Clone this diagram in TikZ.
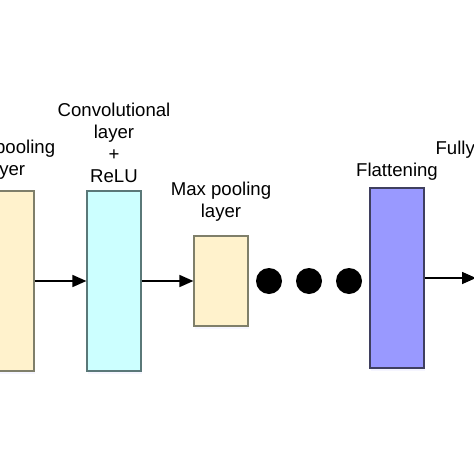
\documentclass[tikz,border=0pt]{standalone}
\usepackage{fontspec}
\setmainfont{Liberation Sans}
\usetikzlibrary{arrows.meta,shadows}
\definecolor{poolfill}{HTML}{FFF2CC}
\definecolor{poolline}{HTML}{7F7F6A}
\definecolor{convfill}{HTML}{CCFFFF}
\definecolor{convline}{HTML}{5A7878}
\definecolor{flatfill}{HTML}{9999FF}
\definecolor{flatline}{HTML}{3F3F5F}
\begin{document}
\begin{tikzpicture}[x=1pt, y=-1pt, line width=1.2pt]
\useasboundingbox (0,0) rectangle (474,474);
\clip (0,0) rectangle (474,474);
\tikzstyle{layer} = [draw, minimum width=54pt, minimum height=180pt, inner sep=0pt, drop shadow={fill=blue!8, shadow xshift=1pt, shadow yshift=-2.5pt}]
\tikzstyle{pool} = [layer, fill=poolfill, draw=poolline]
\tikzstyle{conv} = [layer, fill=convfill, draw=convline]
\tikzstyle{flat} = [layer, fill=flatfill, draw=flatline]
\tikzstyle{dot} = [circle, fill=black, minimum size=26pt, inner sep=0pt]
\tikzstyle{lbl} = [align=center, inner sep=0pt, font=\fontsize{18.6}{22}\selectfont]
\tikzstyle{arr} = [-{Triangle[length=14pt, width=12pt]}, line width=1.6pt]
\node[pool] (pool1) at (7,281) {};
\node[conv] (conv) at (114,281) {};
\node[pool, minimum height=90pt] (pool2) at (221,281) {};
\node[dot] (d1) at (269,281) {};
\node[dot] (d2) at (309,281) {};
\node[dot] (d3) at (349,281) {};
\node[flat] (flat) at (397,278) {};
\coordinate (out) at (476,278);
% labels
\node[lbl, anchor=south] (pool1 label) at (5,180) {Max pooling\\layer};
\node[lbl, anchor=south] (conv label) at (114,183) {Convolutional\\layer\\+\\ReLU};
\node[lbl, anchor=south] (pool2 label) at (221,222) {Max pooling\\layer};
\node[lbl, anchor=base] (flat label) at (397,176) {Flattening};
\node[lbl, anchor=base west] (fc label) at (435,154) {Fully connected layer};
% arrows
\draw[arr] (pool1) -- (conv);
\draw[arr] (conv) -- (pool2);
\draw[arr] (flat) -- (out);
\end{tikzpicture}
\end{document}
